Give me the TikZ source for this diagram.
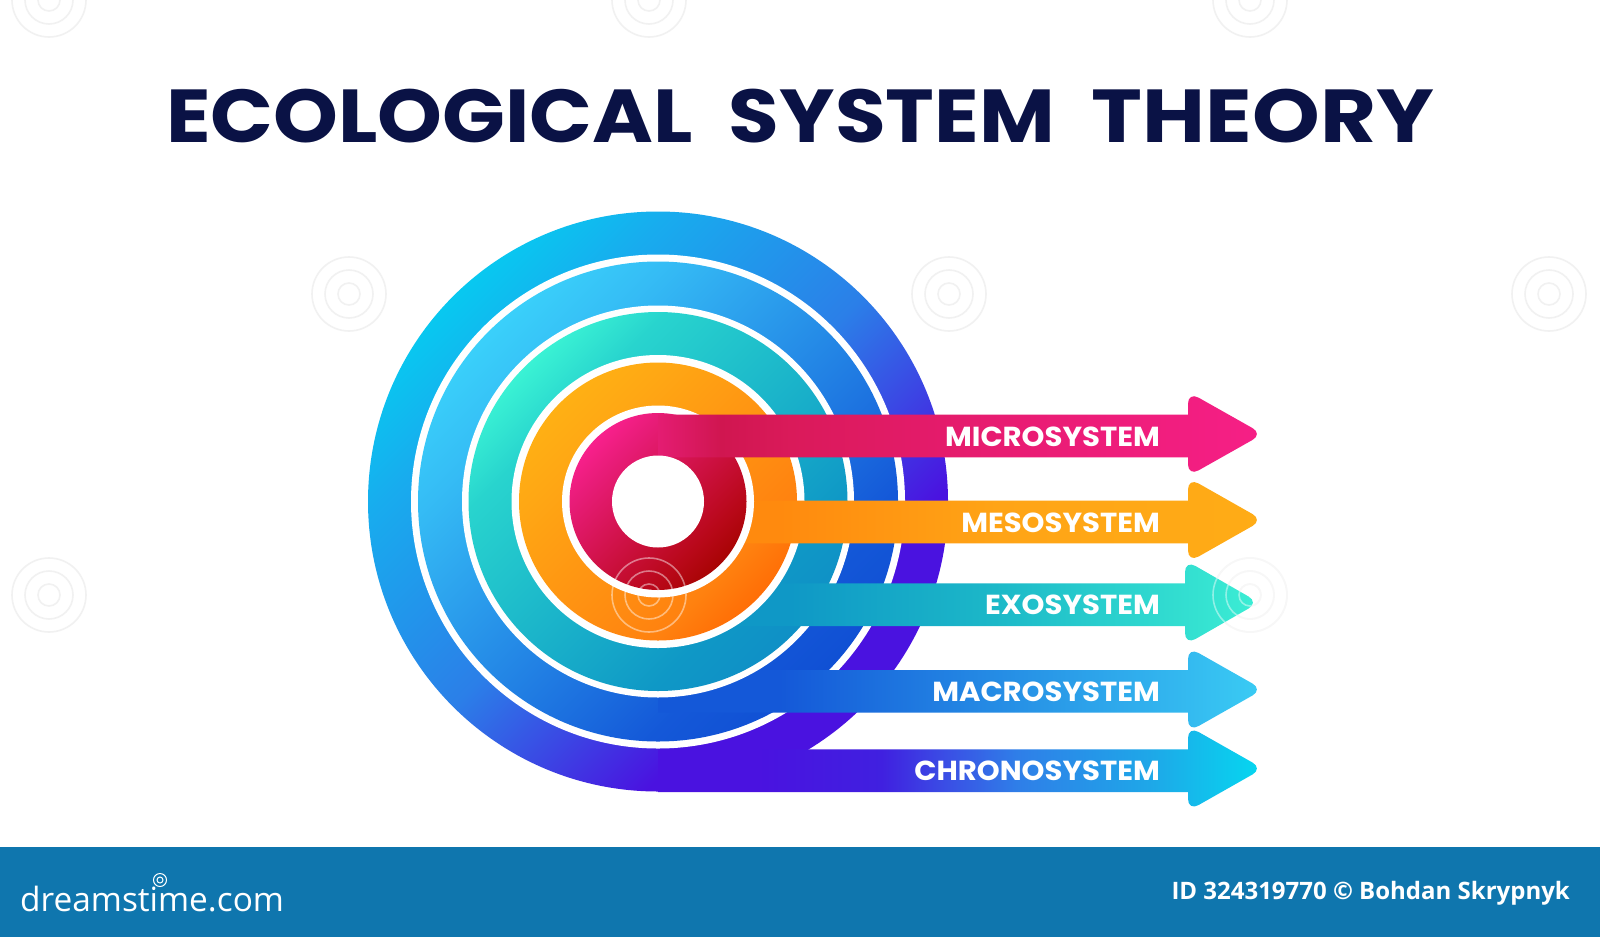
\documentclass[tikz,border=0pt]{standalone}
\usepackage{fontspec}
\setmainfont{Poppins}
\newfontfamily\titlefont[FakeStretch=1.10]{Poppins}
\newfontfamily\sysfont[FakeStretch=1.06]{Poppins}
\newfontfamily\footfont{Open Sans}
\definecolor{ink}{HTML}{0A1245}
\definecolor{band}{HTML}{0F76AE}
\newcommand{\defc}[2]{\definecolor{#1}{HTML}{#2}}
\defc{o1}{08C8F0}\defc{o2}{18ACEE}\defc{o3}{2B7FE8}\defc{o4}{4A12E0}
\defc{b1}{3AD0FA}\defc{b2}{35BCF5}\defc{b3}{1458D8}\defc{b4}{1050D4}
\defc{t1}{3AF2D4}\defc{t2}{28D4CE}\defc{t3}{0F98C6}\defc{t4}{0F90C6}
\defc{y1}{FFB014}\defc{y2}{FFA814}\defc{y3}{FF8210}\defc{y4}{FF6E06}
\defc{r1}{F8208C}\defc{r2}{E81C78}\defc{r3}{B80818}\defc{r4}{A80404}
\defc{c1}{4020E0}\defc{c2}{3A50E5}\defc{c3}{2F7EE8}\defc{c4}{1EA8E8}\defc{c5}{05D8F0}
\defc{m5}{3ACCF4}\defc{e2}{1CB8C8}\defc{e5}{3CEED4}
\defc{s1}{FF8A0E}\defc{s2}{FFA416}\defc{s3}{FFAC16}
\defc{i1}{E41C72}\defc{i2}{D01650}\defc{i3}{DA1A5A}\defc{i4}{E81C72}\defc{i5}{F61F86}
\pgfdeclareverticalshading{outerg}{100bp}{color(0bp)=(o4);color(33bp)=(o4);color(50bp)=(o3);color(67bp)=(o2);color(75bp)=(o1);color(100bp)=(o1)}
\pgfdeclareverticalshading{blueg}{100bp}{color(0bp)=(b4);color(25bp)=(b4);color(33bp)=(b3);color(67bp)=(b2);color(75bp)=(b1);color(100bp)=(b1)}
\pgfdeclareverticalshading{tealg}{100bp}{color(0bp)=(t4);color(25bp)=(t4);color(33bp)=(t3);color(67bp)=(t2);color(75bp)=(t1);color(100bp)=(t1)}
\pgfdeclareverticalshading{orangeg}{100bp}{color(0bp)=(y4);color(25bp)=(y4);color(33bp)=(y3);color(67bp)=(y2);color(75bp)=(y1);color(100bp)=(y1)}
\pgfdeclareverticalshading{redg}{100bp}{color(0bp)=(r4);color(25bp)=(r4);color(33bp)=(r3);color(67bp)=(r2);color(75bp)=(r1);color(100bp)=(r1)}
\pgfdeclarehorizontalshading{chronog}{100bp}{color(0bp)=(o4);color(33bp)=(o4);color(43.5bp)=(c1);color(49bp)=(c2);color(54.6bp)=(c3);color(65.8bp)=(c4);color(75bp)=(c5);color(100bp)=(c5)}
\pgfdeclarehorizontalshading{macrog}{100bp}{color(0bp)=(b3);color(35bp)=(b3);color(75bp)=(m5);color(100bp)=(m5)}
\pgfdeclarehorizontalshading{exog}{100bp}{color(0bp)=(t3);color(36bp)=(t3);color(53bp)=(e2);color(75bp)=(e5);color(100bp)=(e5)}
\pgfdeclarehorizontalshading{mesog}{100bp}{color(0bp)=(s1);color(35bp)=(s1);color(53bp)=(s2);color(75bp)=(s3);color(100bp)=(s3)}
\pgfdeclarehorizontalshading{microg}{100bp}{color(0bp)=(i1);color(25bp)=(i1);color(30.2bp)=(i2);color(36bp)=(i3);color(53.5bp)=(i4);color(75bp)=(i5);color(100bp)=(i5)}
\newcommand{\barrow}[7]{% top, bottom, head top, head bottom, head base x, tip x, shading
  \path[shade,shading=#7] (658,#1) -- (#5,#1) [rounded corners=12pt] -- (#5,#3) -- (#6,{(#3+#4)/2}) -- (#5,#4) [sharp corners] -- (#5,#2) -- (658,#2) -- cycle;}
\newcommand{\wmark}[3]{\draw[#3,line width=1.6pt,opacity=.45] (#1,#2) circle (37) (#1,#2) circle (24) (#1,#2) circle (11);}
\tikzset{
  disc/.style={shade,shading=#1,shading angle=45},
  gap/.style={fill=white},
  syslabel/.style={font=\sysfont\bfseries\fontsize{27.5}{27.5}\selectfont,text=white,anchor=east,inner sep=0pt},
}
\begin{document}
\begin{tikzpicture}[x=1pt,y=-1pt]
\useasboundingbox (0,0) rectangle (1600,937);
\fill[white] (0,0) rectangle (1600,937);
\coordinate (c) at (658,501.5);
% faint background marks
\foreach \p/\q in {49/595,349/294,649/595,949/294,1250/595,1549/294,49/0,649/0,1250/0}
  {\wmark{\p}{\q}{black!12}}
% rings and bars, from the outside in
\path[disc=outerg] (c) circle (290);
\barrow{749.3}{792}{726}{811}{1188}{1263}{chronog}
\path[gap] (c) circle (247);
\path[disc=blueg] (c) circle (240);
\barrow{670}{712.7}{647}{732}{1188}{1263}{macrog}
\path[gap] (c) circle (196);
\path[disc=tealg] (c) circle (189.5);
\barrow{583.3}{626}{560}{645}{1185}{1259}{exog}
\path[gap] (c) circle (146.5);
\path[disc=orangeg] (c) circle (139);
\barrow{500.7}{543.3}{477.5}{562.5}{1188}{1263}{mesog}
\path[gap] (c) circle (96);
\path[disc=redg] (c) circle (88.5);
\barrow{414.7}{457.3}{391.7}{476.3}{1188}{1263}{microg}
\path[gap] (c) circle (46);
% marks visible over the artwork
\wmark{649}{595}{white}
\wmark{1250}{595}{white}
% labels
\node[syslabel] (micro) at (1160,436.5) {MICROSYSTEM};
\node[syslabel] (meso) at (1160,522.5) {MESOSYSTEM};
\node[syslabel] (exo) at (1160,605) {EXOSYSTEM};
\node[syslabel] (macro) at (1160,692) {MACROSYSTEM};
\node[syslabel] (chrono) at (1160,771) {CHRONOSYSTEM};
% title
\node[font=\titlefont\bfseries\fontsize{75}{75}\selectfont,text=ink,inner sep=0pt,anchor=west] (title) at (166,116) {ECOLOGICAL\hspace{36pt}SYSTEM\hspace{37pt}\scalebox{1.044}[1]{THEORY}};
% footer
\fill[band] (0,847) rectangle (1600,937);
\node[font=\footfont\fontsize{33.4}{33.4}\selectfont,text=white,anchor=west,inner sep=0pt] (logo) at (20,899) {dreamstime.com};
\draw[white,line width=1pt] (160,880) circle (6.5) (160,880) circle (3);
\node[font=\footfont\bfseries\fontsize{24}{24}\selectfont,text=white,anchor=east,inner sep=0pt] (credit) at (1570,893) {ID 324319770 © Bohdan Skrypnyk};
\end{tikzpicture}
\end{document}
